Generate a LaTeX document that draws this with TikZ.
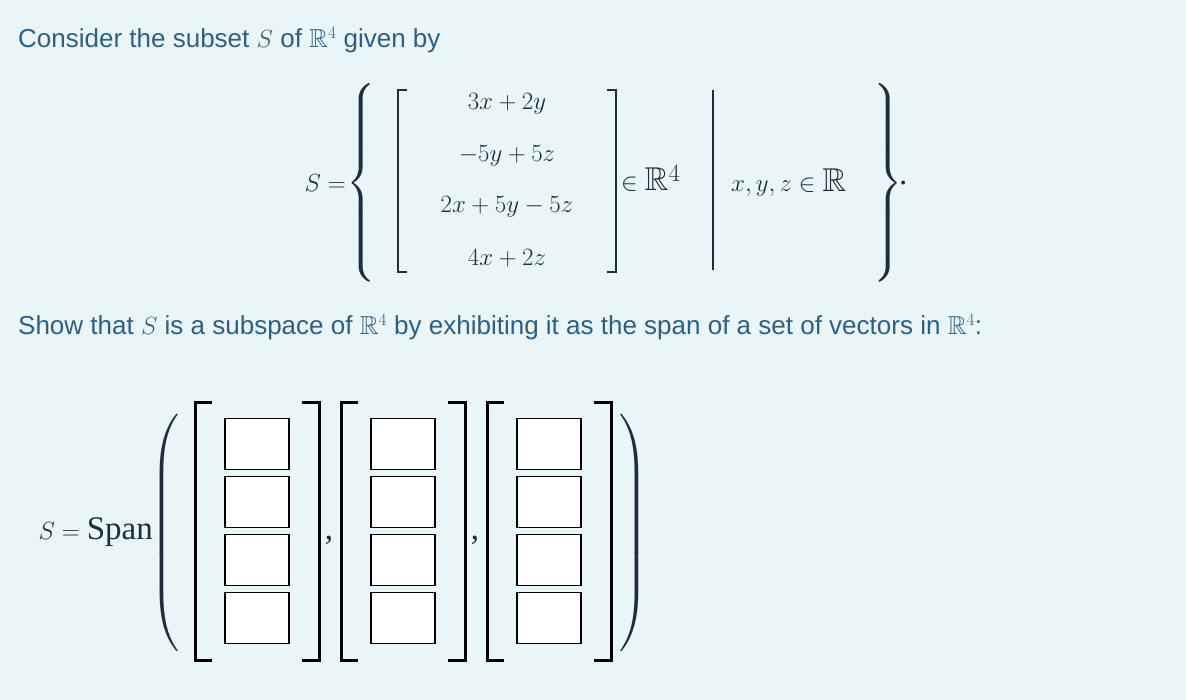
\documentclass[tikz,border=0pt]{standalone}
\usepackage{amsmath,amssymb}
\usepackage{fontspec}
\setmainfont{Liberation Serif}
\setsansfont{Liberation Sans}
\definecolor{bg}{HTML}{EAF5F8}
\definecolor{tx}{HTML}{2F5F82}
\definecolor{mt}{HTML}{1E2E3A}
\begin{document}
\begin{tikzpicture}[x=1pt,y=-1pt,
  para/.style={anchor=base west,inner sep=0,text=tx,font=\sffamily\fontsize{26}{30}\selectfont},
  mth/.style={inner sep=0,text=mt,font=\fontsize{33}{38}\selectfont},
  ent/.style={draw=black,line width=1.3pt,fill=white,minimum width=64pt,minimum height=51pt,inner sep=0},
  brk/.style={line width=3pt,black}]
\fill[bg] (0,0) rectangle (1186,700);
\useasboundingbox (0,0) rectangle (1186,700);
\node[para] (t1) at (18,48) {Consider the subset \textcolor{tx}{$S$} of $\mathbb{R}^4$ given by};
\node[para] (t2) at (18,335) {Show that \textcolor{tx}{$S$} is a subspace of $\mathbb{R}^4$ by exhibiting it as the span of a set of vectors in $\mathbb{R}^4$:};
% top set
\node[mth,anchor=east] (seq) at (346,183) {$S=$};
\node[mth] (lb) at (362,183) {$\left\{\vrule height 88pt depth 88pt width 0pt\right.$};
\node[mth] (r1) at (507,104) {$3x+2y$};
\node[mth] (r2) at (507,156) {$-5y+5z$};
\node[mth] (r3) at (507,207) {$2x+5y-5z$};
\node[mth] (r4) at (507,258) {$4x+2z$};
\draw[line width=1.5pt,mt] (407,90) -- (398,90) -- (398,272) -- (407,272);
\draw[line width=1.5pt,mt] (607,90) -- (616,90) -- (616,272) -- (607,272);
\node[mth,anchor=west] (in) at (621,178) {$\in\mathbb{R}^4$};
\draw[line width=1.5pt,mt] (713,90) -- (713,270);
\node[mth,anchor=west] (xyz) at (731,183) {$x,y,z\in\mathbb{R}$};
\node[mth] (rb) at (888,183) {$\left.\vrule height 88pt depth 88pt width 0pt\right\}$};
\node[mth,anchor=west] (dot) at (899,183) {.};
% span
\node[mth,anchor=east] (span) at (153,532) {$S=\mathrm{Span}$};
\node[mth] (lp) at (166,533) {$\left(\vrule height 112pt depth 112pt width 0pt\right.$};
\node[mth] (rp) at (633,533) {$\left.\vrule height 112pt depth 112pt width 0pt\right)$};
\foreach \c [count=\k] in {0,146,292}{
  \draw[brk] (212+\c,403) -- (195+\c,403) -- (195+\c,660) -- (212+\c,660);
  \draw[brk] (302+\c,403) -- (319+\c,403) -- (319+\c,660) -- (302+\c,660);
  \foreach \r [count=\j] in {444,502,560,618}
    \node[ent] (b\k\j) at (257+\c,\r) {};
}
\node[mth] (c1) at (329,540) {,};
\node[mth] (c2) at (475,540) {,};
\end{tikzpicture}
\end{document}
